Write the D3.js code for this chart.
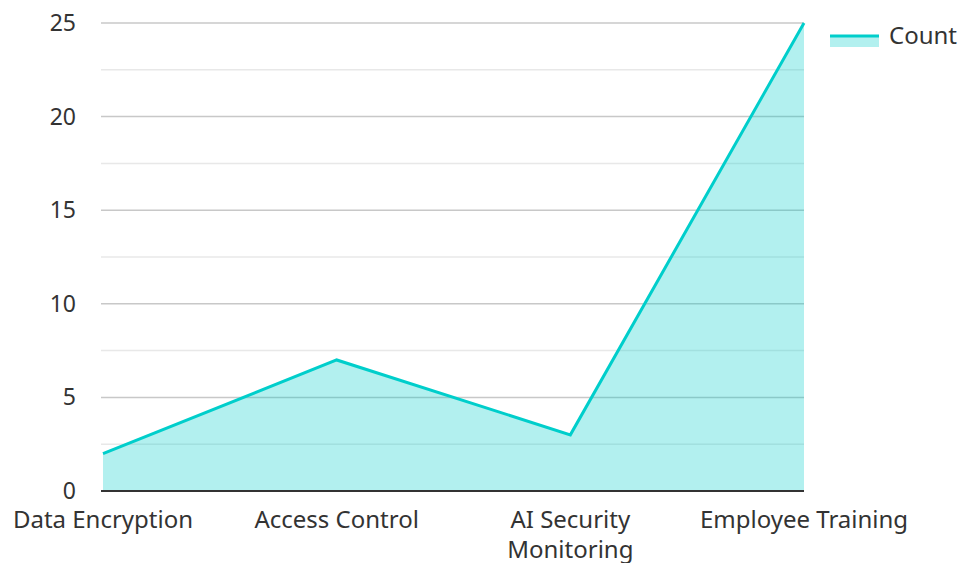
<!DOCTYPE html>
<html>
<head>
<meta charset="utf-8">
<script src="https://cdn.jsdelivr.net/npm/d3@7"></script>
<style>
  body { margin: 0; background: #fff; }
  text { font-family: "Noto Sans", sans-serif; }
</style>
</head>
<body>
<div id="container"></div>
<script>
const categories = ["Data Encryption", "Access Control", "AI Security Monitoring", "Employee Training"];
const labelLines = [["Data Encryption"], ["Access Control"], ["AI Security", "Monitoring"], ["Employee Training"]];
const counts = [2, 7, 3, 25];
const majorTicks = [0, 5, 10, 15, 20, 25];
const minorTicks = [2.5, 7.5, 12.5, 17.5, 22.5];

const width = 961, height = 563;
const margin = {top: 23, right: 157, bottom: 72, left: 103};

const svg = d3.select("#container").append("svg")
    .attr("width", width).attr("height", height);

const x = d3.scalePoint(categories, [margin.left, width - margin.right]);
const y = d3.scaleLinear([0, 25], [height - margin.bottom, margin.top]);

// grid
svg.append("g")
  .selectAll("line")
  .data(minorTicks)
  .join("line")
    .attr("x1", margin.left - 2).attr("x2", width - margin.right)
    .attr("y1", d => y(d)).attr("y2", d => y(d))
    .attr("stroke", "#e8e8e8").attr("stroke-width", 1.5);
svg.append("g")
  .selectAll("line")
  .data(majorTicks.slice(1))
  .join("line")
    .attr("x1", margin.left - 2).attr("x2", width - margin.right)
    .attr("y1", d => y(d)).attr("y2", d => y(d))
    .attr("stroke", "#c8c8c8").attr("stroke-width", 1.5);

const data = categories.map((c, i) => ({c, v: counts[i]}));

svg.append("path")
    .datum(data)
    .attr("fill", "#00cecb").attr("fill-opacity", 0.3)
    .attr("d", d3.area().x(d => x(d.c)).y0(y(0)).y1(d => y(d.v)));

svg.append("path")
    .datum(data)
    .attr("fill", "none").attr("stroke", "#00cecb").attr("stroke-width", 3)
    .attr("d", d3.line().x(d => x(d.c)).y(d => y(d.v)));

// baseline
svg.append("line")
    .attr("x1", margin.left - 2).attr("x2", width - margin.right)
    .attr("y1", y(0)).attr("y2", y(0))
    .attr("stroke", "#333").attr("stroke-width", 2);

// y labels
svg.append("g")
  .selectAll("text")
  .data(majorTicks)
  .join("text")
    .attr("x", 76).attr("y", d => y(d))
    .attr("dy", "0.35em")
    .attr("text-anchor", "end")
    .attr("font-size", 23).attr("fill", "#333")
    .text(d => d);

// x labels
svg.append("g")
  .selectAll("text")
  .data(categories)
  .join("text")
    .attr("x", d => x(d)).attr("y", y(0) + 37)
    .attr("text-anchor", "middle")
    .attr("font-size", 24).attr("fill", "#333")
    .selectAll("tspan")
    .data((d, i) => labelLines[i])
    .join("tspan")
      .attr("x", function() { return this.parentNode.getAttribute("x"); })
      .attr("dy", (d, i) => i ? 30 : 0)
      .text(d => d);

// legend
const lg = svg.append("g");
lg.append("rect").attr("x", 830).attr("y", 36).attr("width", 49).attr("height", 11)
    .attr("fill", "#00cecb").attr("fill-opacity", 0.3);
lg.append("line").attr("x1", 830).attr("x2", 879).attr("y1", 36).attr("y2", 36)
    .attr("stroke", "#00cecb").attr("stroke-width", 3);
lg.append("text").attr("x", 889).attr("y", 36).attr("dy", "0.35em")
    .attr("font-size", 24).attr("fill", "#333").text("Count");
</script>
</body>
</html>
